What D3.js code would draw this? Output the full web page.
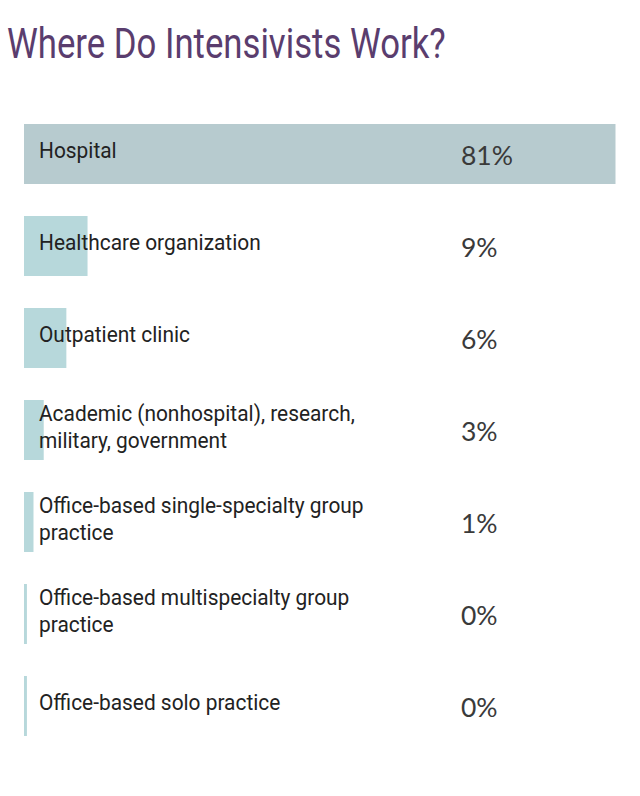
<!DOCTYPE html>
<html>
<head>
<meta charset="utf-8">
<script src="https://cdn.jsdelivr.net/npm/d3@7"></script>
<style>
  html, body { margin: 0; padding: 0; background: #ffffff; }
  svg { display: block; }
</style>
</head>
<body>
<div id="chart"></div>
<script>
const title = "Where Do Intensivists Work?";
const categories = [
  ["Hospital"],
  ["Healthcare organization"],
  ["Outpatient clinic"],
  ["Academic (nonhospital), research,", "military, government"],
  ["Office-based single-specialty group", "practice"],
  ["Office-based multispecialty group", "practice"],
  ["Office-based solo practice"]
];
const values = [81, 8.7, 5.8, 2.7, 1.3, 0.4, 0.4];
const valueLabels = ["81%", "9%", "6%", "3%", "1%", "0%", "0%"];

const W = 640, H = 796;
const svg = d3.select("#chart").append("svg").attr("width", W).attr("height", H);

// Title
svg.append("g").attr("transform", `translate(7,58) scale(0.827,1)`)
  .append("text")
  .attr("font-family", "Roboto, sans-serif")
  .attr("font-size", 42)
  .attr("fill", "#5a3d6e")
  .text(title);

const x = d3.scaleLinear().domain([0, 81]).range([24, 615.5]);
const y = d3.scaleBand().domain(d3.range(categories.length)).range([124, 736]).paddingInner(32/92).paddingOuter(0);

const rows = svg.append("g").selectAll("g.row").data(categories).join("g").attr("class", "row");

rows.append("rect")
  .attr("x", x(0))
  .attr("y", (d, i) => y(i))
  .attr("width", (d, i) => x(values[i]) - x(0))
  .attr("height", y.bandwidth())
  .attr("fill", (d, i) => i === 0 ? "#b7cbcf" : "#b7d8db");

rows.each(function(lines, i) {
  const cy = y(i) + y.bandwidth() / 2;
  const lh = 27.5;
  const startBase = cy + 4.5 - (lines.length - 1) * lh / 2;
  const g = d3.select(this).append("g")
    .attr("transform", `translate(39,0) scale(0.95,1)`);
  lines.forEach((ln, k) => {
    g.append("text")
      .attr("x", 0)
      .attr("y", startBase + k * lh)
      .attr("font-family", "Roboto, sans-serif")
      .attr("font-size", 22)
      .attr("fill", "#222222")
      .text(ln);
  });
  d3.select(this).append("text")
    .attr("x", 461)
    .attr("y", cy + 11)
    .attr("font-family", "Lato, 'Open Sans', sans-serif")
    .attr("font-weight", 400)
    .attr("font-size", 26.5)
    .attr("fill", "#3a3a3a")
    .text(valueLabels[i]);
});
</script>
</body>
</html>
